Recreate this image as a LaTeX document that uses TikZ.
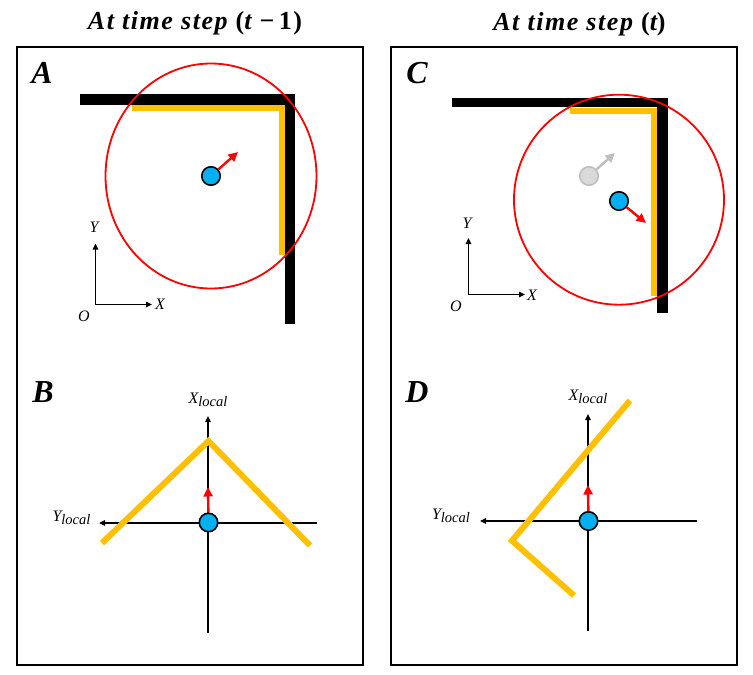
\documentclass[tikz,border=0pt]{standalone}
\usepackage{fontspec}
\usetikzlibrary{arrows.meta}
\newfontfamily\titlefont[LetterSpace=6]{Liberation Serif}
\newfontfamily\labelfont{Liberation Serif}
\definecolor{wallorange}{HTML}{FFC000}
\definecolor{robotblue}{HTML}{00B0F0}
\definecolor{ghostfill}{HTML}{D9D9D9}
\definecolor{ghostline}{HTML}{BFBFBF}
\definecolor{pureRed}{HTML}{FF0000}
\newcommand{\locallabel}[1]{#1\raisebox{-3.5pt}{\fontsize{14.5}{16}\selectfont local}}
\tikzset{
  panelbox/.style={draw=black,line width=2pt,fill=white},
  wallbar/.style={fill=black,draw=none},
  scanbar/.style={fill=wallorange,draw=none},
  scanline/.style={draw=wallorange,line width=6pt,line join=miter},
  rangering/.style={draw=pureRed,line width=1.8pt},
  robot/.style={circle,draw=black,fill=robotblue,line width=1.6pt,minimum size=18.5pt,inner sep=0pt},
  ghost/.style={circle,draw=ghostline,fill=ghostfill,line width=1.6pt,minimum size=18.5pt,inner sep=0pt},
  headarrow/.style={-{Triangle[length=9.5pt,width=9pt]},line width=2.4pt,draw=pureRed,fill=pureRed},
  ghosthead/.style={-{Triangle[length=9.5pt,width=9pt]},line width=2.4pt,draw=ghostline,fill=ghostline},
  worldaxis/.style={draw=black,line width=1.1pt,-{Triangle[length=6pt,width=5.5pt]}},
  localaxis/.style={draw=black,line width=1.5pt,-{Triangle[length=6pt,width=5.5pt]}},
  axlabel/.style={inner sep=0pt,font=\fontsize{16}{18}\selectfont\labelfont\itshape},
  letterlabel/.style={inner sep=0pt,font=\fontsize{32}{34}\selectfont\labelfont\bfseries\itshape},
  titlelabel/.style={inner sep=0pt,font=\fontsize{26}{28}\selectfont\titlefont\bfseries}
}
\begin{document}
\begin{tikzpicture}[x=1pt,y=-1pt]
\useasboundingbox (0,0) rectangle (753,675);
\fill[white] (0,0) rectangle (753,675);
% titles
\node[titlelabel] (t1) at (195,23) {\itshape At time step \upshape(\itshape t \upshape−\,1)};
\node[titlelabel] (t2) at (579.5,24) {\itshape At time step \upshape(\itshape t\upshape)};
% panels
\draw[panelbox] (17,47) rectangle (363,665);
\draw[panelbox] (391,47) rectangle (737,665);
\node[letterlabel] (la) at (42,73) {A};
\node[letterlabel] (lb) at (43,392) {B};
\node[letterlabel] (lc) at (417,73) {C};
\node[letterlabel] (ld) at (417,392) {D};

% Panel A
\fill[wallbar] (80,94) rectangle (295,105);
\fill[wallbar] (285,94) rectangle (295,324);
\fill[scanbar] (132,105) rectangle (285,111);
\fill[scanbar] (279,105) rectangle (285,255);
\draw[rangering] (211,176) ellipse [x radius=105.5,y radius=112.5];
\node[robot] (ra) at (211,176) {};
\coordinate (ha) at (238,152);
\draw[headarrow] (ra) -- (ha);
\coordinate (oa) at (95.5,304.5);
\node[axlabel] (ya) at (94,227) {Y};
\node[axlabel] (xa) at (160,304) {X};
\node[axlabel] (za) at (84,316) {O};
\coordinate (ay) at (95.5,243.5); \coordinate (ax) at (152,304.5);
\draw[worldaxis] (oa) -- (ay);
\draw[worldaxis] (oa) -- (ax);

% Panel C
\fill[wallbar] (452,98) rectangle (668,107);
\fill[wallbar] (657,98) rectangle (668,313);
\fill[scanbar] (570,108) rectangle (657,114);
\fill[scanbar] (651,108) rectangle (657,296);
\draw[rangering] (619,199.7) circle [radius=105];
\node[ghost] (gc) at (589,176) {};
\coordinate (hg) at (615,153);
\draw[ghosthead] (gc) -- (hg);
\node[robot] (rc) at (619,201) {};
\coordinate (hc) at (646,223);
\draw[headarrow] (rc) -- (hc);
\coordinate (oc) at (468.5,294.5);
\node[axlabel] (yc) at (467,223) {Y};
\node[axlabel] (xc) at (532,295) {X};
\node[axlabel] (zc) at (456,306) {O};
\coordinate (cy) at (468.5,238); \coordinate (cx) at (525,294.5);
\draw[worldaxis] (oc) -- (cy);
\draw[worldaxis] (oc) -- (cx);

% Panel B
\coordinate (bn) at (208,416); \coordinate (bs) at (208,633);
\coordinate (bw) at (99,523); \coordinate (be) at (317,523);
\draw[localaxis] (bs) -- (bn);
\draw[localaxis] (be) -- (bw);
\node[axlabel] (xb) at (208,400) {\locallabel{X}};
\node[axlabel] (yb) at (71.5,518) {\locallabel{Y}};
\draw[scanline] (102,543) -- (208.5,441) -- (310,545.5);
\node[robot] (rb) at (208.5,522.5) {};
\coordinate (hb) at (208,487);
\draw[headarrow] (rb) -- (hb);

% Panel D
\coordinate (dn) at (588,414); \coordinate (ds) at (588,631);
\coordinate (dw) at (480,521); \coordinate (de) at (697,521);
\draw[localaxis] (ds) -- (dn);
\draw[localaxis] (de) -- (dw);
\node[axlabel] (xd) at (588,397) {\locallabel{X}};
\node[axlabel] (yd) at (451,516) {\locallabel{Y}};
\draw[scanline] (630,400.5) -- (512,540.7) -- (574,595.5);
\node[robot] (rd) at (588.5,521) {};
\coordinate (hd) at (588,485);
\draw[headarrow] (rd) -- (hd);
\end{tikzpicture}
\end{document}
